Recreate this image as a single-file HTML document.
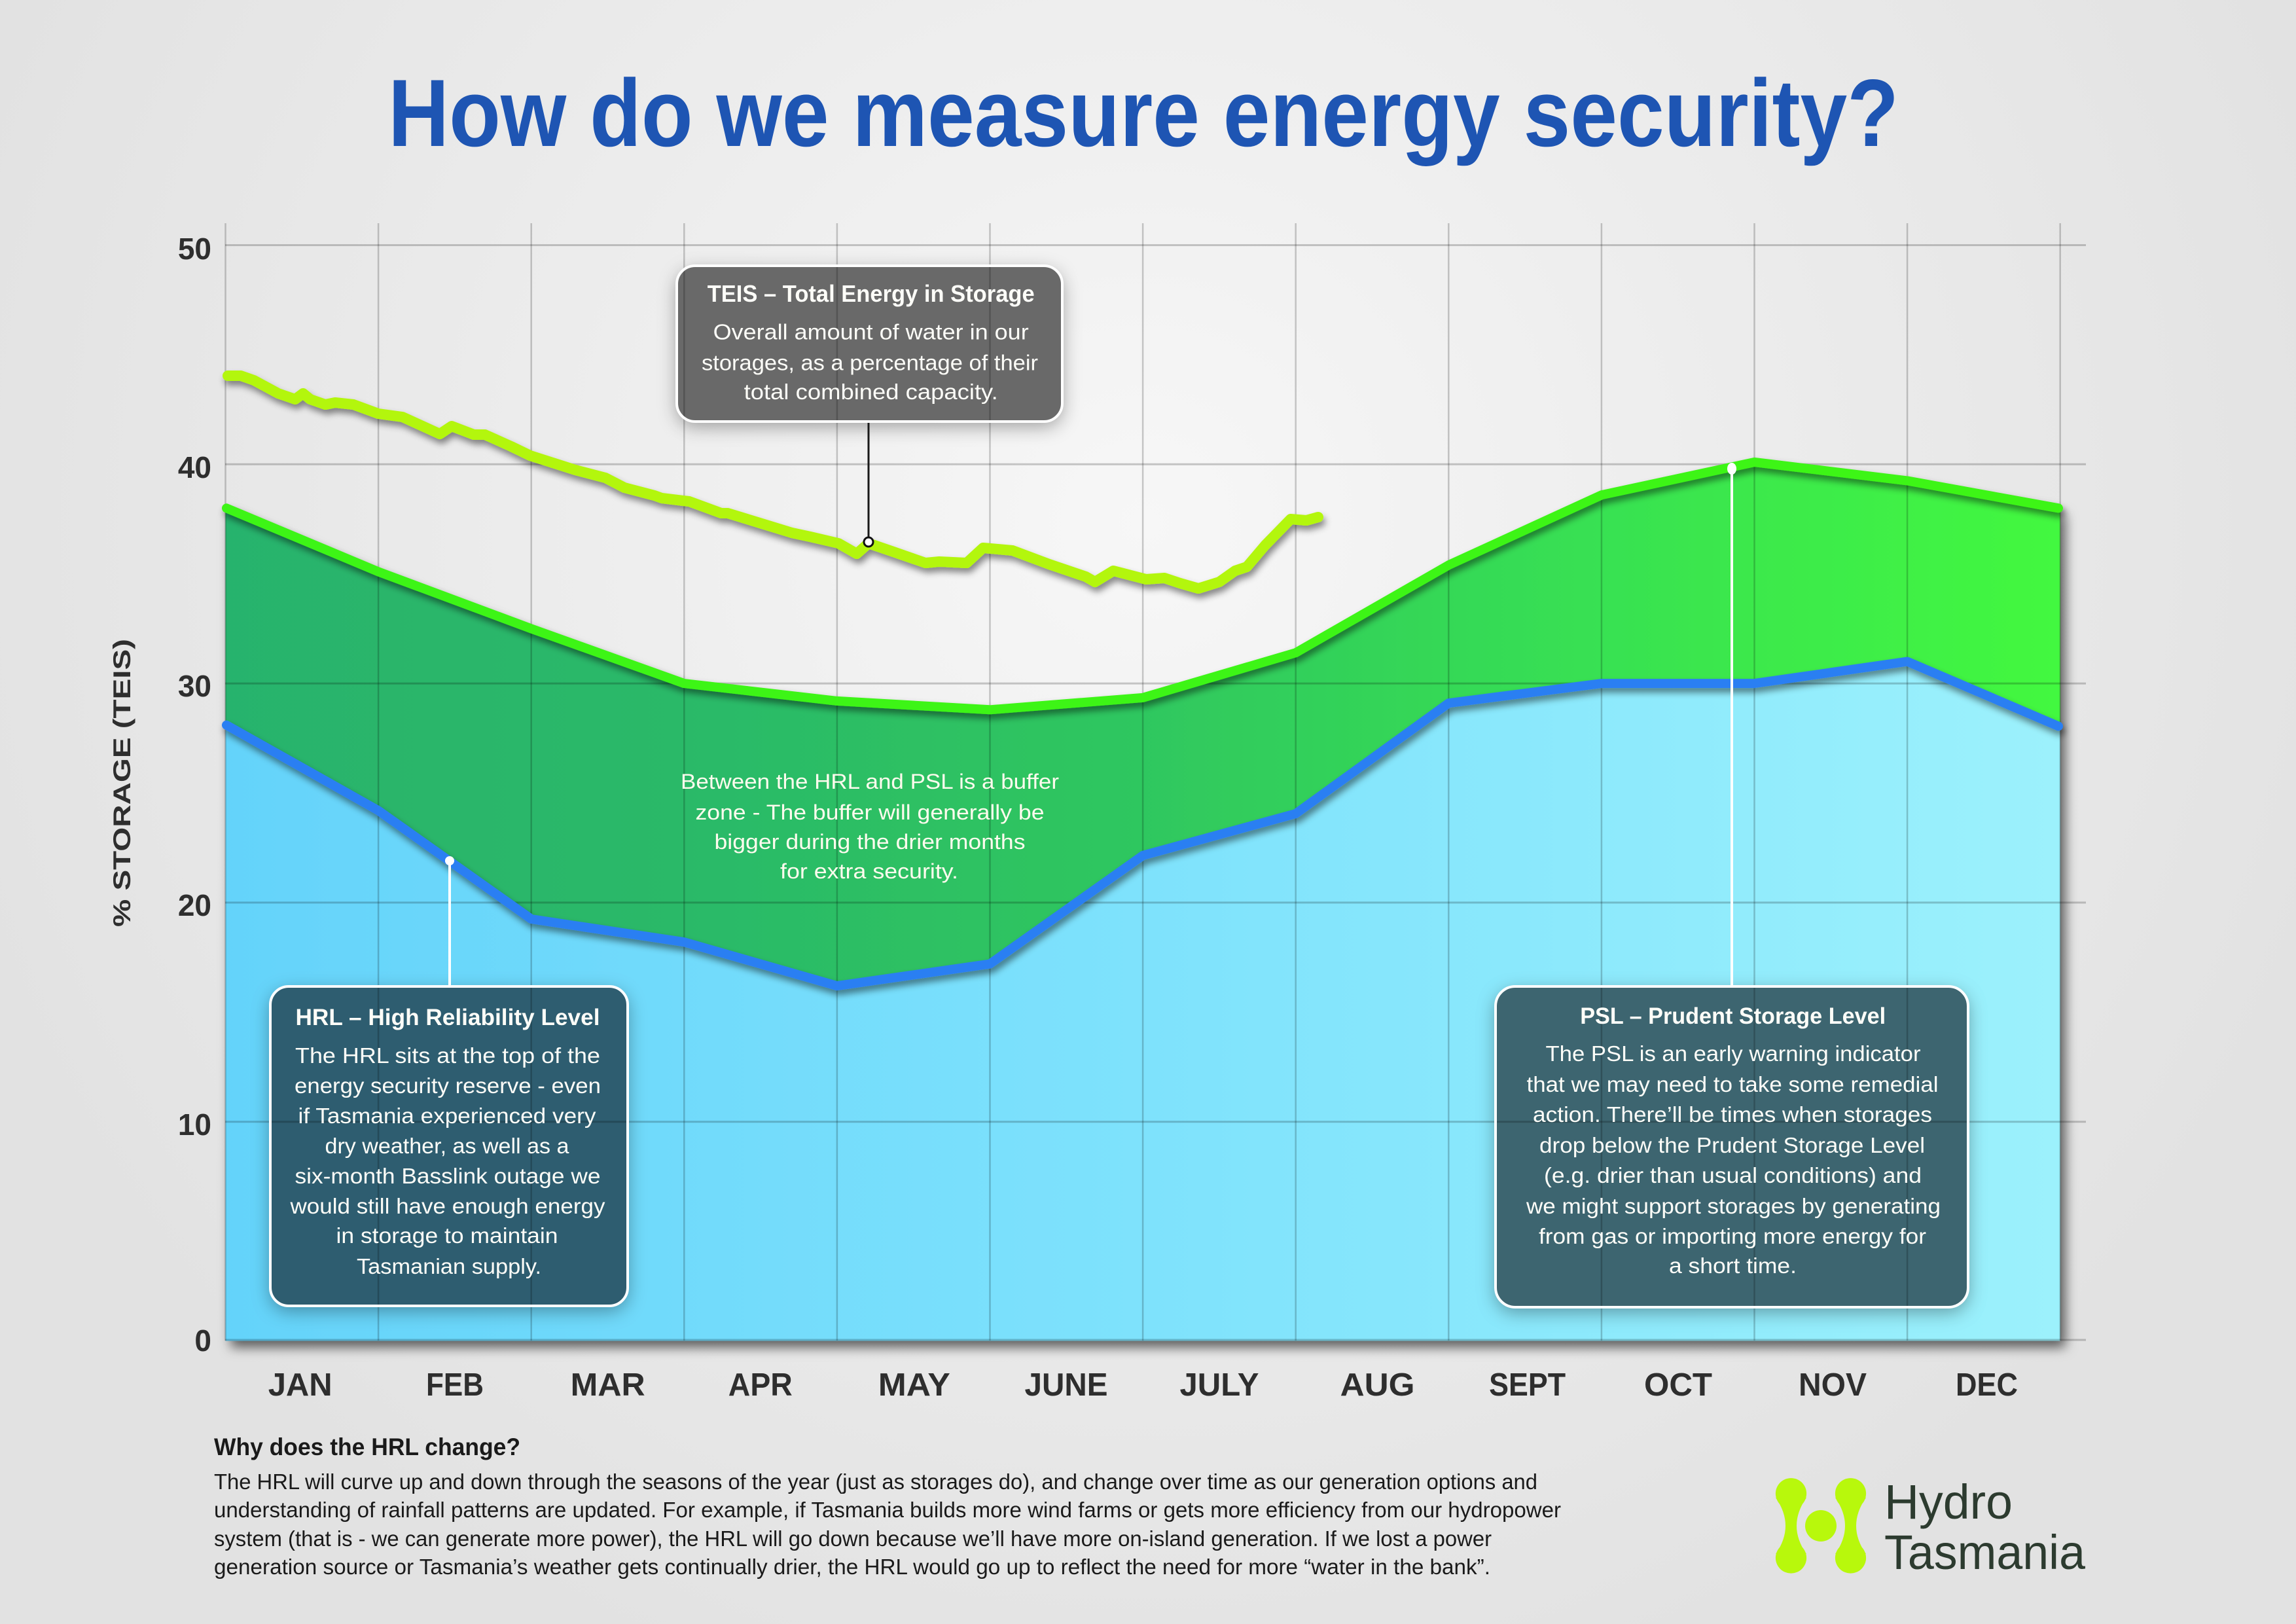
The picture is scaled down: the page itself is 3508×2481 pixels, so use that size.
<!DOCTYPE html>
<html>
<head>
<meta charset="utf-8">
<style>
html,body{margin:0;padding:0;width:3508px;height:2481px;overflow:hidden;background:#e6e6e6;}
svg{display:block;}
text{font-family:"Liberation Sans",sans-serif;}
</style>
</head>
<body>
<svg width="3508" height="2481" viewBox="0 0 3508 2481" xmlns="http://www.w3.org/2000/svg">
<defs>
  <radialGradient id="bg" cx="1750" cy="800" r="1900" gradientUnits="userSpaceOnUse">
    <stop offset="0" stop-color="#f7f7f7"/>
    <stop offset="0.45" stop-color="#ededed"/>
    <stop offset="1" stop-color="#e2e2e2"/>
  </radialGradient>
  <linearGradient id="gGreen" x1="344" y1="0" x2="3148" y2="0" gradientUnits="userSpaceOnUse">
    <stop offset="0" stop-color="#28b36d"/>
    <stop offset="0.25" stop-color="#2bb968"/>
    <stop offset="0.5" stop-color="#2fc75f"/>
    <stop offset="0.75" stop-color="#38e152"/>
    <stop offset="1" stop-color="#43f83f"/>
  </linearGradient>
  <linearGradient id="gBlue" x1="344" y1="0" x2="3148" y2="0" gradientUnits="userSpaceOnUse">
    <stop offset="0" stop-color="#64d3fa"/>
    <stop offset="0.5" stop-color="#7ee2fc"/>
    <stop offset="1" stop-color="#9cf1fc"/>
  </linearGradient>
  <filter id="areaShadow" filterUnits="userSpaceOnUse" x="0" y="0" width="3508" height="2481">
    <feDropShadow dx="8" dy="10" stdDeviation="9" flood-color="#000" flood-opacity="0.6"/>
  </filter>
  <filter id="lineShadow" filterUnits="userSpaceOnUse" x="0" y="0" width="3508" height="2481">
    <feDropShadow dx="3" dy="7" stdDeviation="5" flood-color="#000" flood-opacity="0.45"/>
  </filter>
  <filter id="boxShadow" filterUnits="userSpaceOnUse" x="0" y="0" width="3508" height="2481">
    <feDropShadow dx="0" dy="8" stdDeviation="14" flood-color="#000" flood-opacity="0.35"/>
  </filter>
</defs>

<!-- background -->
<rect x="0" y="0" width="3508" height="2481" fill="url(#bg)"/>

<!-- title -->
<text x="593" y="223" font-size="146" font-weight="bold" fill="#1e55b3" textLength="2308" lengthAdjust="spacingAndGlyphs">How do we measure energy security?</text>

<!-- chart fills -->
<g filter="url(#areaShadow)">
  <polygon fill="url(#gBlue)" points="344.5,1107.7 578.1,1238.3 811.7,1404 1045.3,1439.2 1278.9,1506.1 1512.5,1472.6 1746.1,1306.9 1979.7,1243 2213.3,1074.2 2446.9,1044.1 2680.5,1044.1 2914.1,1010.6 3147.7,1109.4 3147.7,2048.5 344.5,2048.5"/>
  <polygon fill="url(#gGreen)" points="344.5,776.3 578.1,873.4 811.7,960.4 1045.3,1044.1 1278.9,1070.9 1512.5,1084.3 1746.1,1065.9 1979.7,997.2 2213.3,863.3 2446.9,756.2 2680.5,706 2914.1,734.4 3147.7,776.3 3147.7,1109.4 2914.1,1010.6 2680.5,1044.1 2446.9,1044.1 2213.3,1074.2 1979.7,1243 1746.1,1306.9 1512.5,1472.6 1278.9,1506.1 1045.3,1439.2 811.7,1404 578.1,1238.3 344.5,1107.7"/>
</g>

<!-- callout box fills (under gridlines) -->
<g filter="url(#boxShadow)">
  <rect x="1034" y="406" width="589" height="238" rx="28" fill="#696969"/>
  <rect x="413" y="1507" width="546" height="488" rx="28" fill="#2e5d70"/>
  <rect x="2285" y="1507" width="722" height="490" rx="30" fill="#3e6570"/>
</g>

<!-- gridlines -->
<g stroke="#000" stroke-opacity="0.2" stroke-width="3" fill="none">
  <line x1="344" y1="374.5" x2="3187" y2="374.5"/>
  <line x1="344" y1="709.3" x2="3187" y2="709.3"/>
  <line x1="344" y1="1044.1" x2="3187" y2="1044.1"/>
  <line x1="344" y1="1378.9" x2="3187" y2="1378.9"/>
  <line x1="344" y1="1713.7" x2="3187" y2="1713.7"/>
  <line x1="344" y1="2047" x2="3187" y2="2047"/>
</g>
<g stroke="#000" stroke-opacity="0.2" stroke-width="2.5" fill="none">
  <line x1="344.5" y1="341" x2="344.5" y2="2048"/>
  <line x1="578.1" y1="341" x2="578.1" y2="2048"/>
  <line x1="811.7" y1="341" x2="811.7" y2="2048"/>
  <line x1="1045.3" y1="341" x2="1045.3" y2="2048"/>
  <line x1="1278.9" y1="341" x2="1278.9" y2="2048"/>
  <line x1="1512.5" y1="341" x2="1512.5" y2="2048"/>
  <line x1="1746.1" y1="341" x2="1746.1" y2="2048"/>
  <line x1="1979.7" y1="341" x2="1979.7" y2="2048"/>
  <line x1="2213.3" y1="341" x2="2213.3" y2="2048"/>
  <line x1="2446.9" y1="341" x2="2446.9" y2="2048"/>
  <line x1="2680.5" y1="341" x2="2680.5" y2="2048"/>
  <line x1="2914.1" y1="341" x2="2914.1" y2="2048"/>
  <line x1="3147.7" y1="341" x2="3147.7" y2="2048"/>
</g>

<!-- series lines -->
<g filter="url(#lineShadow)" fill="none" stroke-linejoin="round" stroke-linecap="round">
  <polyline stroke="#3cf514" stroke-width="14" points="346,776.3 578.1,873.4 811.7,960.4 1045.3,1044.1 1278.9,1070.9 1512.5,1084.3 1746.1,1065.9 1979.7,997.2 2213.3,863.3 2446.9,756.2 2680.5,706 2914.1,734.4 3145,776.3"/>
  <polyline stroke="#2b7ff2" stroke-width="14" points="346,1107.7 578.1,1238.3 811.7,1404 1045.3,1439.2 1278.9,1506.1 1512.5,1472.6 1746.1,1306.9 1979.7,1243 2213.3,1074.2 2446.9,1044.1 2680.5,1044.1 2914.1,1010.6 3145,1109.4"/>
  <polyline stroke="#b3f60b" stroke-width="16" points="348,574 368,574 388,581 425,601 451,610 463,601 474,610 497,618 512,615 540,618 578,632 615,637 672,663 690,651 724,664 741,664 781,682 810,696 879,718 925,730 954,745 1000,757 1011,761 1044,765 1053,766 1102,784 1112,784 1210,814 1238,820 1281,830 1309,846 1327,830 1365,843 1414,860 1435,858 1477,860 1502,837 1547,841 1603,862 1659,881 1673,889 1701,872 1751,885 1779,883 1803,891 1831,899 1863,889 1887,872 1905,866 1933,833 1972,793 1996,795 2014,790"/>
</g>

<!-- connectors -->
<line x1="1327" y1="644" x2="1327" y2="828" stroke="#1a1a1a" stroke-width="3"/>
<circle cx="1327" cy="828" r="7" fill="#fff" stroke="#111" stroke-width="3"/>
<line x1="687" y1="1315" x2="687" y2="1507" stroke="#fff" stroke-width="4"/>
<circle cx="687" cy="1315" r="7" fill="#fff"/>
<line x1="2646" y1="714" x2="2646" y2="1507" stroke="#fff" stroke-width="4"/>
<ellipse cx="2646" cy="716" rx="7" ry="9" fill="#fff"/>

<!-- box borders -->
<g fill="none" stroke="#fff" stroke-width="4">
  <rect x="1034" y="406" width="589" height="238" rx="28"/>
  <rect x="413" y="1507" width="546" height="488" rx="28"/>
  <rect x="2285" y="1507" width="722" height="490" rx="30"/>
</g>

<!-- TEIS text -->
<g fill="#fdfdf8" text-anchor="middle">
  <text x="1330.7" y="461" font-size="36" font-weight="bold" textLength="500" lengthAdjust="spacingAndGlyphs">TEIS – Total Energy in Storage</text>
  <text x="1330.7" y="518.5" font-size="33" textLength="482" lengthAdjust="spacingAndGlyphs">Overall amount of water in our</text>
  <text x="1329" y="565.6" font-size="33" textLength="514" lengthAdjust="spacingAndGlyphs">storages, as a percentage of their</text>
  <text x="1330.7" y="610" font-size="33" textLength="388" lengthAdjust="spacingAndGlyphs">total combined capacity.</text>
</g>

<!-- HRL text -->
<g fill="#fdfdf8" text-anchor="middle">
  <text x="684" y="1566" font-size="35" font-weight="bold" textLength="465" lengthAdjust="spacingAndGlyphs">HRL – High Reliability Level</text>
  <text x="684" y="1624" font-size="33.5" textLength="466" lengthAdjust="spacingAndGlyphs">The HRL sits at the top of the</text>
  <text x="684" y="1670" font-size="33.5" textLength="468" lengthAdjust="spacingAndGlyphs">energy security reserve - even</text>
  <text x="683" y="1716" font-size="33.5" textLength="455" lengthAdjust="spacingAndGlyphs">if Tasmania experienced very</text>
  <text x="683" y="1762" font-size="33.5" textLength="373" lengthAdjust="spacingAndGlyphs">dry weather, as well as a</text>
  <text x="684" y="1808" font-size="33.5" textLength="467" lengthAdjust="spacingAndGlyphs">six-month Basslink outage we</text>
  <text x="684" y="1854" font-size="33.5" textLength="481" lengthAdjust="spacingAndGlyphs">would still have enough energy</text>
  <text x="683" y="1899" font-size="33.5" textLength="339" lengthAdjust="spacingAndGlyphs">in storage to maintain</text>
  <text x="686" y="1946" font-size="33.5" textLength="282" lengthAdjust="spacingAndGlyphs">Tasmanian supply.</text>
</g>

<!-- PSL text -->
<g fill="#fdfdf8" text-anchor="middle">
  <text x="2647.7" y="1564" font-size="35" font-weight="bold" textLength="467" lengthAdjust="spacingAndGlyphs">PSL – Prudent Storage Level</text>
  <text x="2648" y="1621" font-size="33.5" textLength="573" lengthAdjust="spacingAndGlyphs">The PSL is an early warning indicator</text>
  <text x="2647" y="1668" font-size="33.5" textLength="629" lengthAdjust="spacingAndGlyphs">that we may need to take some remedial</text>
  <text x="2647" y="1714" font-size="33.5" textLength="610" lengthAdjust="spacingAndGlyphs">action. There’ll be times when storages</text>
  <text x="2646.5" y="1761" font-size="33.5" textLength="589" lengthAdjust="spacingAndGlyphs">drop below the Prudent Storage Level</text>
  <text x="2647.5" y="1807" font-size="33.5" textLength="577" lengthAdjust="spacingAndGlyphs">(e.g. drier than usual conditions) and</text>
  <text x="2648.5" y="1854" font-size="33.5" textLength="633" lengthAdjust="spacingAndGlyphs">we might support storages by generating</text>
  <text x="2647" y="1900" font-size="33.5" textLength="592" lengthAdjust="spacingAndGlyphs">from gas or importing more energy for</text>
  <text x="2647.5" y="1945" font-size="33.5" textLength="195" lengthAdjust="spacingAndGlyphs">a short time.</text>
</g>

<!-- buffer text -->
<g fill="#fffbee" text-anchor="middle">
  <text x="1329" y="1205" font-size="32" textLength="578" lengthAdjust="spacingAndGlyphs">Between the HRL and PSL is a buffer</text>
  <text x="1329" y="1252" font-size="32" textLength="533" lengthAdjust="spacingAndGlyphs">zone - The buffer will generally be</text>
  <text x="1329" y="1297" font-size="32" textLength="475" lengthAdjust="spacingAndGlyphs">bigger during the drier months</text>
  <text x="1328" y="1342" font-size="32" textLength="272" lengthAdjust="spacingAndGlyphs">for extra security.</text>
</g>

<!-- y tick labels -->
<g fill="#2e2e2e" font-size="46" font-weight="bold" text-anchor="end">
  <text x="323" y="396">50</text>
  <text x="323" y="730">40</text>
  <text x="323" y="1064">30</text>
  <text x="323" y="1399">20</text>
  <text x="323" y="1734">10</text>
  <text x="323" y="2064">0</text>
</g>

<!-- y axis title -->
<text transform="translate(199,1196) rotate(-90)" x="0" y="0" text-anchor="middle" font-size="37" font-weight="bold" fill="#2e2e2e" textLength="440" lengthAdjust="spacingAndGlyphs">% STORAGE (TEIS)</text>

<!-- month labels -->
<g fill="#2e2e2e" font-size="49" font-weight="bold" text-anchor="middle">
  <text x="458.7" y="2132" textLength="98" lengthAdjust="spacingAndGlyphs">JAN</text>
  <text x="695" y="2132" textLength="88" lengthAdjust="spacingAndGlyphs">FEB</text>
  <text x="928.7" y="2132" textLength="114" lengthAdjust="spacingAndGlyphs">MAR</text>
  <text x="1161.8" y="2132" textLength="98" lengthAdjust="spacingAndGlyphs">APR</text>
  <text x="1396.8" y="2132" textLength="110" lengthAdjust="spacingAndGlyphs">MAY</text>
  <text x="1629" y="2132" textLength="127" lengthAdjust="spacingAndGlyphs">JUNE</text>
  <text x="1863" y="2132" textLength="121" lengthAdjust="spacingAndGlyphs">JULY</text>
  <text x="2104.6" y="2132" textLength="114" lengthAdjust="spacingAndGlyphs">AUG</text>
  <text x="2333.6" y="2132" textLength="117" lengthAdjust="spacingAndGlyphs">SEPT</text>
  <text x="2564" y="2132" textLength="104" lengthAdjust="spacingAndGlyphs">OCT</text>
  <text x="2800" y="2132" textLength="104" lengthAdjust="spacingAndGlyphs">NOV</text>
  <text x="3035.5" y="2132" textLength="95" lengthAdjust="spacingAndGlyphs">DEC</text>
</g>

<!-- bottom text -->
<text x="327" y="2223" font-size="37" font-weight="bold" fill="#1a1a1a" textLength="468" lengthAdjust="spacingAndGlyphs">Why does the HRL change?</text>
<g fill="#1a1a1a" font-size="33">
  <text x="327" y="2275" textLength="2022" lengthAdjust="spacingAndGlyphs">The HRL will curve up and down through the seasons of the year (just as storages do), and change over time as our generation options and</text>
  <text x="327" y="2318" textLength="2058" lengthAdjust="spacingAndGlyphs">understanding of rainfall patterns are updated. For example, if Tasmania builds more wind farms or gets more efficiency from our hydropower</text>
  <text x="327" y="2362" textLength="1952" lengthAdjust="spacingAndGlyphs">system (that is - we can generate more power), the HRL will go down because we’ll have more on-island generation. If we lost a power</text>
  <text x="327" y="2405" textLength="1950" lengthAdjust="spacingAndGlyphs">generation source or Tasmania’s weather gets continually drier, the HRL would go up to reflect the need for more “water in the bank”.</text>
</g>

<!-- logo -->
<g fill="#b8f80c">
  <circle cx="2736.5" cy="2281.7" r="23.6"/>
  <circle cx="2736.5" cy="2380" r="23.6"/>
  <path d="M2713 2288 Q2743 2331 2713 2374 L2760 2374 Q2730 2331 2760 2288 Z"/>
  <circle cx="2827.5" cy="2281.7" r="23.6"/>
  <circle cx="2827.5" cy="2380" r="23.6"/>
  <path d="M2851 2288 Q2821 2331 2851 2374 L2804 2374 Q2834 2331 2804 2288 Z"/>
  <circle cx="2782" cy="2331" r="24"/>
</g>
<g fill="#2c3b2f" font-size="74">
  <text x="2879" y="2320" textLength="196" lengthAdjust="spacingAndGlyphs">Hydro</text>
  <text x="2879" y="2397" textLength="307" lengthAdjust="spacingAndGlyphs">Tasmania</text>
</g>
</svg>
</body>
</html>
